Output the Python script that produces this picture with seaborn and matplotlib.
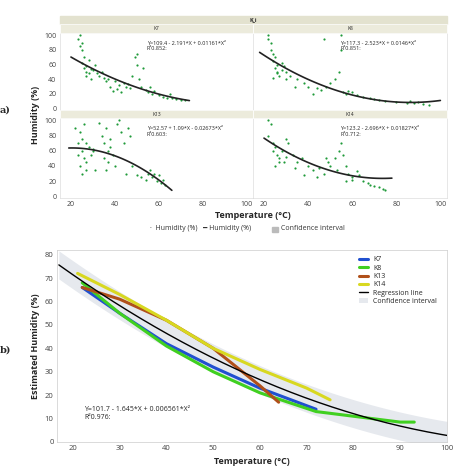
import numpy as np
import pandas as pd
import matplotlib
matplotlib.use("Agg")
import matplotlib.pyplot as plt
import seaborn as sns

sns.set_style("white")
plt.rcParams['font.family'] = ['Open Sans', 'DejaVu Sans']

kilns = ["K7", "K8", "K13", "K14"]
coef = {"K7": (109.4, -2.191, 0.01161), "K8": (117.3, -2.523, 0.0146),
        "K13": (52.57, 1.09, -0.02673), "K14": (123.2, -2.696, 0.01827)}
r2 = {"K7": "0.852", "K8": "0.851", "K13": "0.603", "K14": "0.712"}
fit_range = {"K7": (20, 74), "K8": (18, 100), "K13": (19, 66), "K14": (20, 78)}

# estimated humidity traces
est_T = {"K7": [22, 30, 40, 50, 60, 72],
         "K8": [22, 30, 40, 50, 60, 72, 80, 90, 93],
         "K13": [22, 30, 40, 50, 55, 60, 64],
         "K14": [21, 30, 40, 50, 60, 70, 75]}
est_H = {"K7": [66, 55, 42, 32, 23, 14],
         "K8": [68, 55, 41, 30, 21, 13, 11, 8.5, 8.5],
         "K13": [66, 61, 52, 40, 32, 24, 17],
         "K14": [72, 63, 52, 40, 31, 23, 18]}
est_colors = {"K7": "#2050d0", "K8": "#40d020", "K13": "#b0501a", "K14": "#d8d820"}

# measured points (approximate reading of clouds)
pts = {
 "K7": ([24,24,25,25,26,26,27,27,28,28,29,30,31,32,33,35,37,38,40,42,44,45,46,47,48,49,50,50,51,52,53,54,55,56,57,58,60,62,64,65,66,68,70,72,25,27,29,23,34,36,39,41,43],
        [100,85,80,62,70,55,50,58,48,66,54,52,60,48,45,42,40,30,38,32,35,30,34,28,45,70,75,60,40,30,55,25,22,30,20,24,18,16,15,20,14,13,12,12,90,45,40,95,50,38,24,27,22]),
 "K8": ([22,22,23,23,24,24,25,25,26,26,27,28,29,30,32,35,38,40,44,46,47,48,50,52,54,55,55,56,57,58,60,62,65,68,70,72,75,80,85,86,88,90,92,95,24,26,28,30,34,42],
        [100,95,90,80,75,65,70,55,50,60,45,62,58,50,45,40,35,30,28,25,95,30,35,40,50,100,80,22,20,24,22,18,16,14,13,12,10,9,8,10,7,9,6,5,42,48,52,40,30,20]),
 "K13": ([22,23,23,24,24,25,25,26,26,27,27,28,29,30,31,33,34,35,35,36,37,37,38,39,40,41,42,43,44,45,46,47,48,50,52,54,55,56,57,58,59,60,61,62,63,25,27,36,38,30],
         [90,70,55,85,40,75,60,95,50,70,45,65,55,60,35,97,80,70,50,90,60,45,75,55,40,95,100,85,70,30,90,80,40,28,25,22,30,35,25,30,20,28,18,22,15,30,35,35,65,62]),
 "K14": ([22,22,23,24,24,25,26,27,28,29,30,31,33,35,37,40,42,45,47,48,49,50,52,54,55,56,57,58,60,62,63,65,67,68,70,72,74,75,25,27,30,34,38,44,53,57,60],
         [100,80,95,70,60,65,55,50,60,45,75,70,55,45,50,40,35,38,30,50,45,40,50,60,70,55,40,30,25,33,28,20,18,15,14,12,10,8,40,45,52,38,28,25,35,20,22]),
}

fig = plt.figure(figsize=(4.74, 4.74), dpi=100)
W = H = 474.0
def ax_at(x0, y0, x1, y1):
    return fig.add_axes([x0 / W, 1 - y1 / H, (x1 - x0) / W, (y1 - y0) / H])

green = "#1f9a3a"
boxes = {"K7": (60, 33, 253, 110), "K8": (253, 33, 447, 110),
         "K13": (60, 118, 253, 198), "K14": (253, 118, 447, 198)}
strip = "#e3e2cf"
fig.patches.append(plt.Rectangle((60 / W, 1 - 24 / H), 387 / W, 8 / H, transform=fig.transFigure, color=strip))
fig.text(253 / W, 1 - 20 / H, "K_i", fontsize=4, ha="center", va="center", weight="bold")
for k in kilns:
    x0, y0, x1, y1 = boxes[k]
    hb = 9 if k in ("K7", "K8") else 8
    fig.patches.append(plt.Rectangle((x0 / W, 1 - y0 / H), (x1 - x0) / W, hb / H,
                                     transform=fig.transFigure, color="#ecebdc", ec="white", lw=0.5))
    fig.text((x0 + x1) / 2 / W, 1 - (y0 - 4.5) / H if k in ("K7", "K8") else 1 - (y0 - 4) / H,
             k, fontsize=3.5, ha="center", va="center")
    ax = ax_at(x0, y0, x1, y1)
    df = pd.DataFrame({"T": pts[k][0], "H": pts[k][1]})
    sns.scatterplot(data=df, x="T", y="H", ax=ax, s=2.5, color=green, edgecolor=None, linewidth=0)
    a, b, c = coef[k]
    xs = np.linspace(*fit_range[k], 100)
    sns.lineplot(x=xs, y=a + b * xs + c * xs ** 2, ax=ax, color="#222222", lw=1.2)
    ax.set_xlim(15, 103); ax.set_ylim(-2, 103)
    ax.set_xlabel(""); ax.set_ylabel("")
    sgn1 = "-" if b < 0 else "+"; sgn2 = "-" if c < 0 else "+"
    ax.text(0.45, 0.9, f"Y={a} {sgn1} {abs(b)}*X {sgn2} {abs(c)}*X²\nR²{r2[k]}:",
            transform=ax.transAxes, fontsize=4, va="top")
    for s in ax.spines.values():
        s.set_color("#dddddd"); s.set_linewidth(0.5)
    ax.tick_params(labelsize=5, length=1.5, pad=1, colors="#444444")
    ax.set_yticks([0, 20, 40, 60, 80, 100])
    ax.set_xticks([20, 40, 60, 80, 100])
    if k in ("K8", "K14"):
        ax.set_yticklabels([])
    if k in ("K7", "K8"):
        ax.set_xticklabels([]); ax.tick_params(axis="x", length=0)

fig.text(36 / W, 1 - 115 / H, "Humidity (%)", rotation=90, fontsize=6.5, weight="bold", ha="center", va="center")
fig.text(253 / W, 1 - 215 / H, "Temperature (°C)", fontsize=6.5, weight="bold", ha="center", va="center")
fig.text(150 / W, 1 - 229 / H, "·  Humidity (%)   ━ Humidity (%)", fontsize=5, ha="left", va="center", color="#333333")
fig.patches.append(plt.Rectangle((272 / W, 1 - 232 / H), 6 / W, 5 / H, transform=fig.transFigure, color="#bbbbbb"))
fig.text(281 / W, 1 - 229 / H, "Confidence interval", fontsize=5, ha="left", va="center", color="#333333")
fig.text(0, 1 - 110 / H, "a)", fontsize=7, weight="bold", va="center", family="serif")

# bottom panel
ax = ax_at(57, 250, 447, 442)
xs = np.linspace(17, 100, 200)
yr = 101.7 - 1.645 * xs + 0.006561 * xs ** 2
ax.fill_between(xs, yr - 6, yr + 6, color="#e6e9ee", lw=0, label="Confidence interval")
for k in kilns:
    sns.lineplot(x=est_T[k], y=est_H[k], ax=ax, color=est_colors[k], lw=2.2, label=k)
sns.lineplot(x=xs, y=yr, ax=ax, color="black", lw=1, label="Regression line")
ax.set_xlim(16.6, 100); ax.set_ylim(0, 82)
ax.set_xticks(range(20, 101, 10)); ax.set_yticks(range(0, 81, 10))
ax.tick_params(labelsize=5.5, length=1.5, pad=1, colors="#444444")
for s in ax.spines.values():
    s.set_color("#cccccc"); s.set_linewidth(0.5)
ax.set_xlabel("Temperature (°C)", fontsize=6.5, weight="bold", labelpad=3)
ax.set_ylabel("Estimated Humidity (%)", fontsize=6.5, weight="bold", labelpad=3)
h, l = ax.get_legend_handles_labels()
order = [l.index(n) for n in ["K7", "K8", "K13", "K14", "Regression line", "Confidence interval"]]
ax.legend([h[i] for i in order], [l[i] for i in order], fontsize=5, frameon=False,
          loc="upper right", bbox_to_anchor=(0.99, 1.0), handlelength=1.2, labelspacing=0.2)
ax.text(0.07, 0.15, "Y=101.7 - 1.645*X + 0.006561*X²\nR²0.976:", transform=ax.transAxes, fontsize=5, va="center")
fig.text(0, 1 - 350 / H, "b)", fontsize=7, weight="bold", va="center", family="serif")

fig.savefig("out.png", dpi=100, facecolor="white")
